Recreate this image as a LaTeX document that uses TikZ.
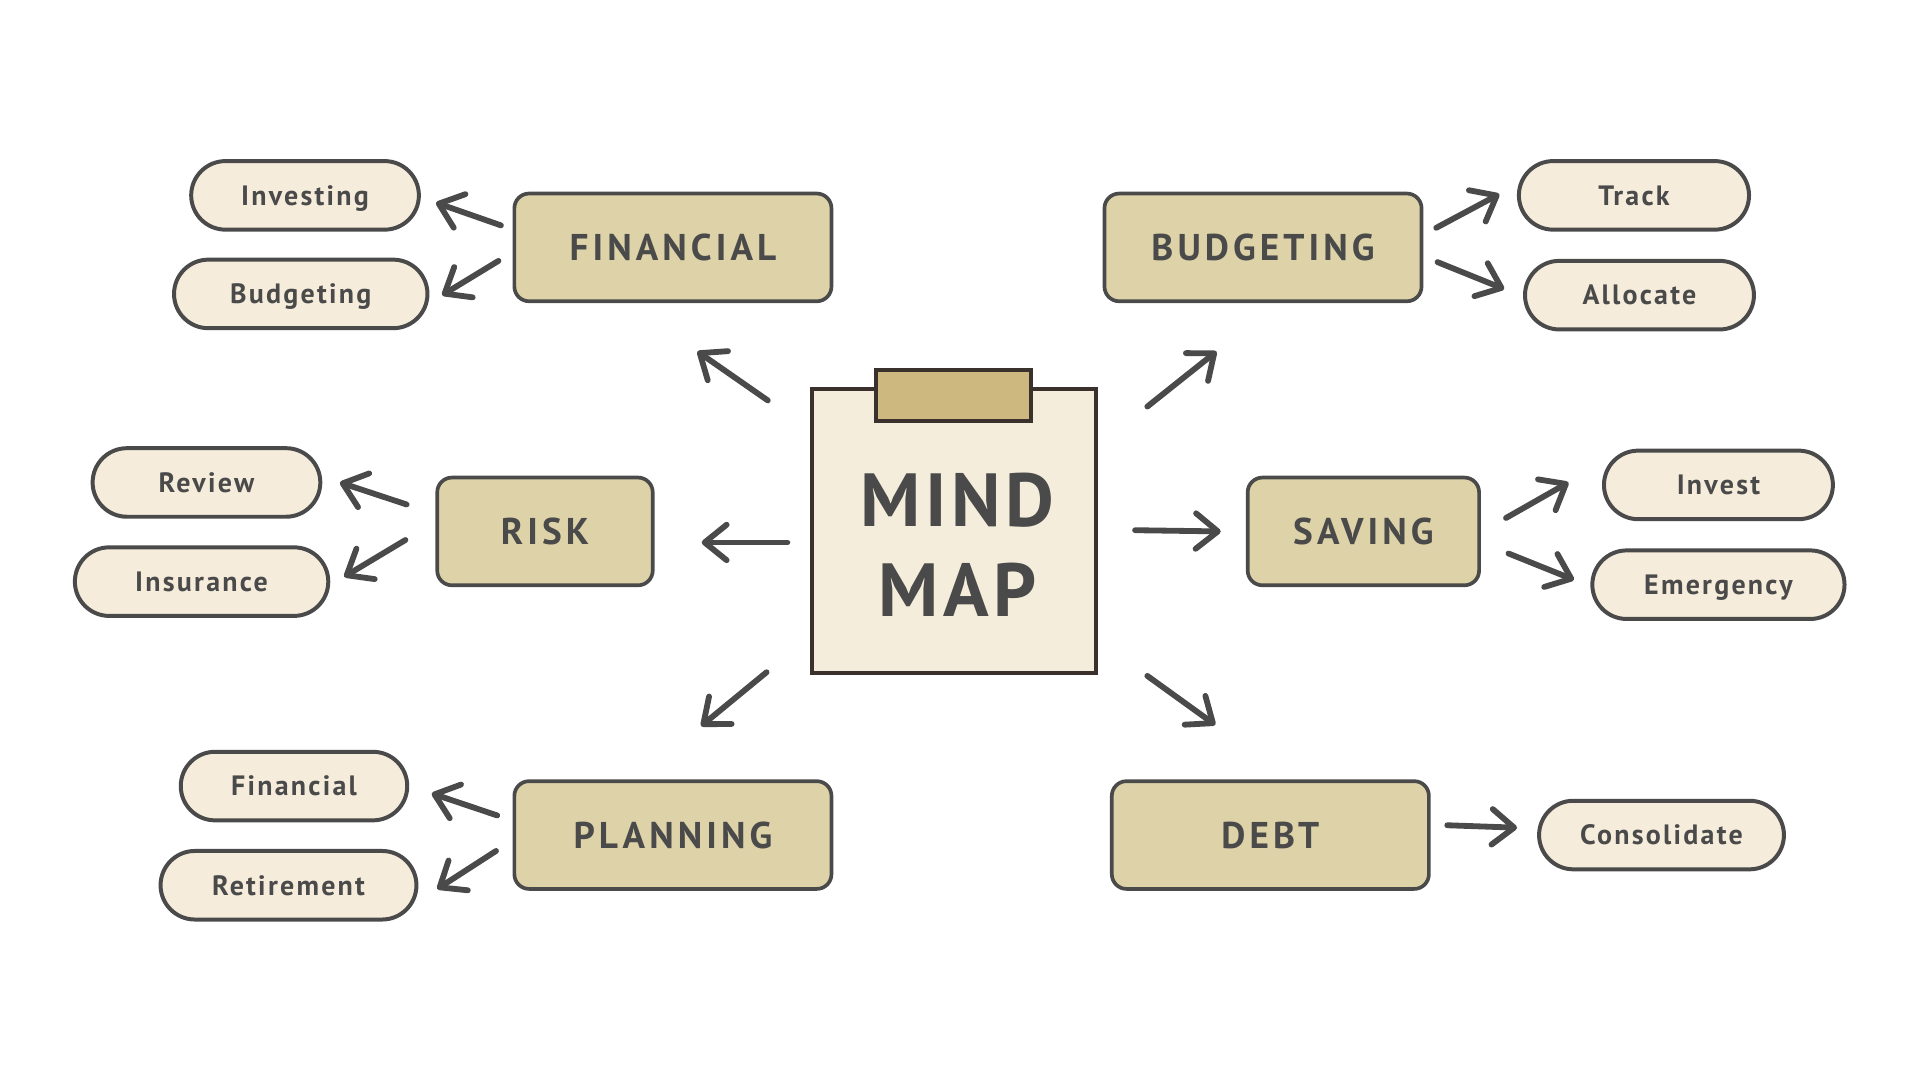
\documentclass[tikz,border=0pt]{standalone}
\usepackage{fontspec}
\setmainfont{PT Sans}
\newfontfamily\topicfont[LetterSpace=11]{PT Sans}
\newfontfamily\leaffont[LetterSpace=8]{PT Sans}
\newfontfamily\titlefont[LetterSpace=6]{PT Sans}
\usetikzlibrary{positioning,arrows.meta}
\definecolor{ink}{HTML}{4A4A4A}
\definecolor{edge}{HTML}{3A312D}
\definecolor{paper}{HTML}{F5EDDC}
\definecolor{tape}{HTML}{CDB980}
\definecolor{khaki}{HTML}{DDD2A8}
\definecolor{cream}{HTML}{F5ECDB}
\tikzset{
topic/.style={draw=ink,fill=khaki,line width=0.06cm,rounded corners=0.24cm,minimum width=5.18cm,minimum height=1.76cm,outer sep=0pt,text=ink,font=\topicfont\bfseries\fontsize{17.3}{20}\selectfont,text height=12.1pt,text depth=0pt},
leaf/.style={draw=ink,fill=cream,line width=0.065cm,rounded corners=0.56cm,minimum height=1.12cm,inner sep=0pt,outer sep=0pt,text=ink,font=\leaffont\bfseries\fontsize{13}{15}\selectfont,text height=9.1pt,text depth=0pt},
arr/.style={draw=ink,line width=0.095cm,line cap=round,-{Straight Barb[round,length=0.36cm,width=0.58cm]}}
}
\begin{document}
\begin{tikzpicture}[x=0.02cm,y=-0.02cm]
\fill[white] (0,0) rectangle (1568,882);
\useasboundingbox (0,0) rectangle (1568,882);
\node[draw=edge,fill=paper,line width=0.065cm,minimum size=4.64cm,outer sep=0pt] (m) at (779,434) {};
\node[draw=edge,fill=tape,line width=0.065cm,minimum width=2.53cm,minimum height=0.84cm,outer sep=0pt] (tp) at ([yshift=-0.1cm]m.north) {};
\node[text=ink,font=\titlefont\bfseries\fontsize{35}{42}\selectfont,align=center] (t) at ([yshift=-0.22cm,xshift=0.06cm]m.center) {MIND\\MAP};
\node[topic,above=1.44cm of m,xshift=-4.59cm] (f) {FINANCIAL};
\node[topic,above=1.44cm of m,xshift=5.05cm] (b) {BUDGETING};
\node[topic,minimum width=3.52cm,left=2.6cm of m] (r) {RISK};
\node[topic,minimum width=3.78cm,right=2.48cm of m] (s) {SAVING};
\node[topic,below=1.76cm of m,xshift=-4.59cm] (p) {PLANNING};
\node[topic,below=1.76cm of m,xshift=5.17cm] (d) {DEBT};
\node[leaf,minimum width=3.72cm,left=1.56cm of f,yshift=0.85cm] (f1) {Investing};
\node[leaf,minimum width=4.14cm,left=1.42cm of f,yshift=-0.76cm] (f2) {Budgeting};
\node[leaf,minimum width=3.76cm,right=1.59cm of b,yshift=0.85cm] (b1) {Track};
\node[leaf,minimum width=3.74cm,right=1.69cm of b,yshift=-0.78cm] (b2) {Allocate};
\node[leaf,minimum width=3.72cm,left=1.91cm of r,yshift=0.8cm] (r1) {Review};
\node[leaf,minimum width=4.14cm,left=1.78cm of r,yshift=-0.82cm] (r2) {Insurance};
\node[leaf,minimum width=3.74cm,right=2.04cm of s,yshift=0.76cm] (s1) {Invest};
\node[leaf,minimum width=4.12cm,right=1.85cm of s,yshift=-0.87cm] (s2) {Emergency};
\node[leaf,minimum width=3.7cm,left=1.75cm of p,yshift=0.8cm] (p1) {Financial};
\node[leaf,minimum width=4.18cm,left=1.6cm of p,yshift=-0.82cm] (p2) {Retirement};
\node[leaf,minimum width=4cm,right=1.8cm of d] (d1) {Consolidate};
\draw[arr] ([shift={(-36,9)}]m.north west) -- ([shift={(20,41)}]f.south);
\draw[arr] ([shift={(42,14)}]m.north east) -- ([shift={(-38,41)}]b.south);
\draw[arr] ([shift={(-20,9)}]m.west) -- ([shift={(40,9)}]r.east);
\draw[arr] ([shift={(32,-1)}]m.east) -- ([shift={(-22,0)}]s.west);
\draw[arr] ([shift={(-37,-1)}]m.south west) -- ([shift={(23,-45)}]p.north);
\draw[arr] ([shift={(42,2)}]m.south east) -- ([shift={(-45,-46)}]d.north);
\draw[arr] ([shift={(-11,-18)}]f.west) -- ([shift={(14,6)}]f1.east);
\draw[arr] ([shift={(-13,11)}]f.west) -- ([shift={(12,1)}]f2.east);
\draw[arr] ([shift={(12,-16)}]b.east) -- ([shift={(-16,-1)}]b1.west);
\draw[arr] ([shift={(13,12)}]b.east) -- ([shift={(-17,-5)}]b2.west);
\draw[arr] ([shift={(-25,-22)}]r.west) -- ([shift={(16,0)}]r1.east);
\draw[arr] ([shift={(-26,7)}]r.west) -- ([shift={(13,-4)}]r2.east);
\draw[arr] ([shift={(22,-11)}]s.east) -- ([shift={(-29,-2)}]s1.west);
\draw[arr] ([shift={(24,18)}]s.east) -- ([shift={(-15,-4)}]s2.west);
\draw[arr] ([shift={(-14,-16)}]p.west) -- ([shift={(20,6)}]p1.east);
\draw[arr] ([shift={(-15,13)}]p.west) -- ([shift={(17,3)}]p2.east);
\draw[arr] ([shift={(15,-8)}]d.east) -- ([shift={(-18,-6)}]d1.west);
\end{tikzpicture}
\end{document}
